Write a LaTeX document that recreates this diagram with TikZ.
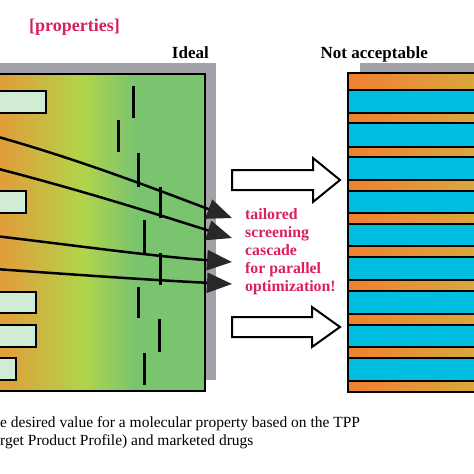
\documentclass[tikz,border=0pt]{standalone}
\usepackage{fontspec}
\setmainfont{Liberation Serif}
\usetikzlibrary{arrows.meta}
\definecolor{pinkred}{RGB}{216,32,96}
\definecolor{shadowgray}{RGB}{162,162,168}
\definecolor{orangeL}{RGB}{232,150,55}
\definecolor{ygreen}{RGB}{178,212,75}
\definecolor{greenR}{RGB}{122,196,112}
\definecolor{mint}{RGB}{208,236,212}
\definecolor{stripeO}{RGB}{240,128,48}
\definecolor{stripeY}{RGB}{214,172,62}
\definecolor{stripeB}{RGB}{0,190,225}
\definecolor{tipgray}{RGB}{40,40,40}
\begin{document}
\begin{tikzpicture}[x=1pt,y=-1pt,
  boxline/.style={draw=black,line width=2pt},
  lightbar/.style={draw=black,line width=1.5pt,fill=mint},
  dashmark/.style={line width=3pt},
  conn/.style={line width=2.5pt,-{Triangle[length=25pt,width=20pt,color=tipgray]}},
  hollow/.style={draw=black,fill=white,line width=2pt,miter limit=10},
  stripe/.style={draw=black,line width=1.5pt},
  lbl/.style={inner sep=0pt,font=\bfseries\fontsize{17}{20}\selectfont},
  pinktxt/.style={inner sep=0pt,anchor=base west,text=pinkred,font=\bfseries\fontsize{15.8}{18}\selectfont},
  captxt/.style={inner sep=0pt,anchor=base west,font=\fontsize{15.5}{18}\selectfont}]
\useasboundingbox (0,0) rectangle (474,474);
\clip (0,0) rectangle (474,474);
\fill[white] (0,0) rectangle (474,474);
% left box
\fill[shadowgray] (-10,63) rectangle (216,380);
\fill[left color=orangeL,right color=ygreen] (-10,74) rectangle (82.5,391);
\fill[left color=ygreen,right color=greenR] (82,74) rectangle (135.5,391);
\fill[greenR] (135,74) rectangle (205,391);
\draw[boxline] (-10,74) rectangle (205,391);
% light bars
\draw[lightbar] (-10,91) rectangle (46,113);
\draw[lightbar] (-10,191) rectangle (26,213);
\draw[lightbar] (-10,292) rectangle (36,313);
\draw[lightbar] (-10,325) rectangle (36,347);
\draw[lightbar] (-10,358) rectangle (16,380);
% dashes
\foreach \x/\ya/\yb in {133/86/118,118/120/152,138/153/187,160/187/218,144/220/253,160/253/285,138/287/318,159/319/352,144/353/385}
  \draw[dashmark] (\x,\ya) -- (\x,\yb);
% connectors
\coordinate (s1) at (-5,136);
\coordinate (s2) at (-5,168);
\coordinate (s3) at (-5,236);
\coordinate (s4) at (-5,269);
\coordinate (t1) at (232,218);
\coordinate (t2) at (232,238);
\coordinate (t3) at (232,262);
\coordinate (t4) at (232,284);
\draw[conn] (s1) .. controls (80,160) and (150,187) .. (t1);
\draw[conn] (s2) .. controls (80,190) and (150,212) .. (t2);
\draw[conn] (s3) .. controls (80,246) and (150,256) .. (t3);
\draw[conn] (s4) .. controls (80,275) and (150,280) .. (t4);
% hollow arrows
\draw[hollow] (232,170) -- (313,170) -- (313,158) -- (340,180) -- (313,202) -- (313,190) -- (232,190) -- cycle;
\draw[hollow] (232,317) -- (312,317) -- (312,307) -- (340,327) -- (312,347) -- (312,337) -- (232,337) -- cycle;
% right box
\fill[shadowgray] (360,63) rectangle (480,80);
\foreach \ya/\yb in {90/113,123/147,157/180,191/213,224/246,257/280,291/314,325/347,358/381}
  \draw[stripe,fill=stripeB] (348,\ya) rectangle (480,\yb);
\foreach \ya/\yb in {73/90,113/123,147/157,180/191,213/224,246/257,280/291,314/325,347/358,381/392}
  \draw[stripe,left color=stripeO,right color=stripeY] (348,\ya) rectangle (490,\yb);
% labels
\node[anchor=base west,inner sep=0pt,text=pinkred,font=\bfseries\fontsize{18}{20}\selectfont] (props) at (29,31) {[properties]};
\node[lbl,anchor=base east] (ideal) at (209,58) {Ideal};
\node[lbl,anchor=base east] (notacc) at (428,58) {Not acceptable};
\node[pinktxt] (p1) at (245,219) {tailored};
\node[pinktxt] (p2) at (245,237) {screening};
\node[pinktxt] (p3) at (245,255) {cascade};
\node[pinktxt] (p4) at (245,273) {for parallel};
\node[pinktxt] (p5) at (245,291) {optimization!};
\node[captxt] (c1) at (0,427) {e desired value for a molecular property based on the TPP};
\node[captxt] (c2) at (0,445) {rget Product Profile) and marketed drugs};
\end{tikzpicture}
\end{document}
